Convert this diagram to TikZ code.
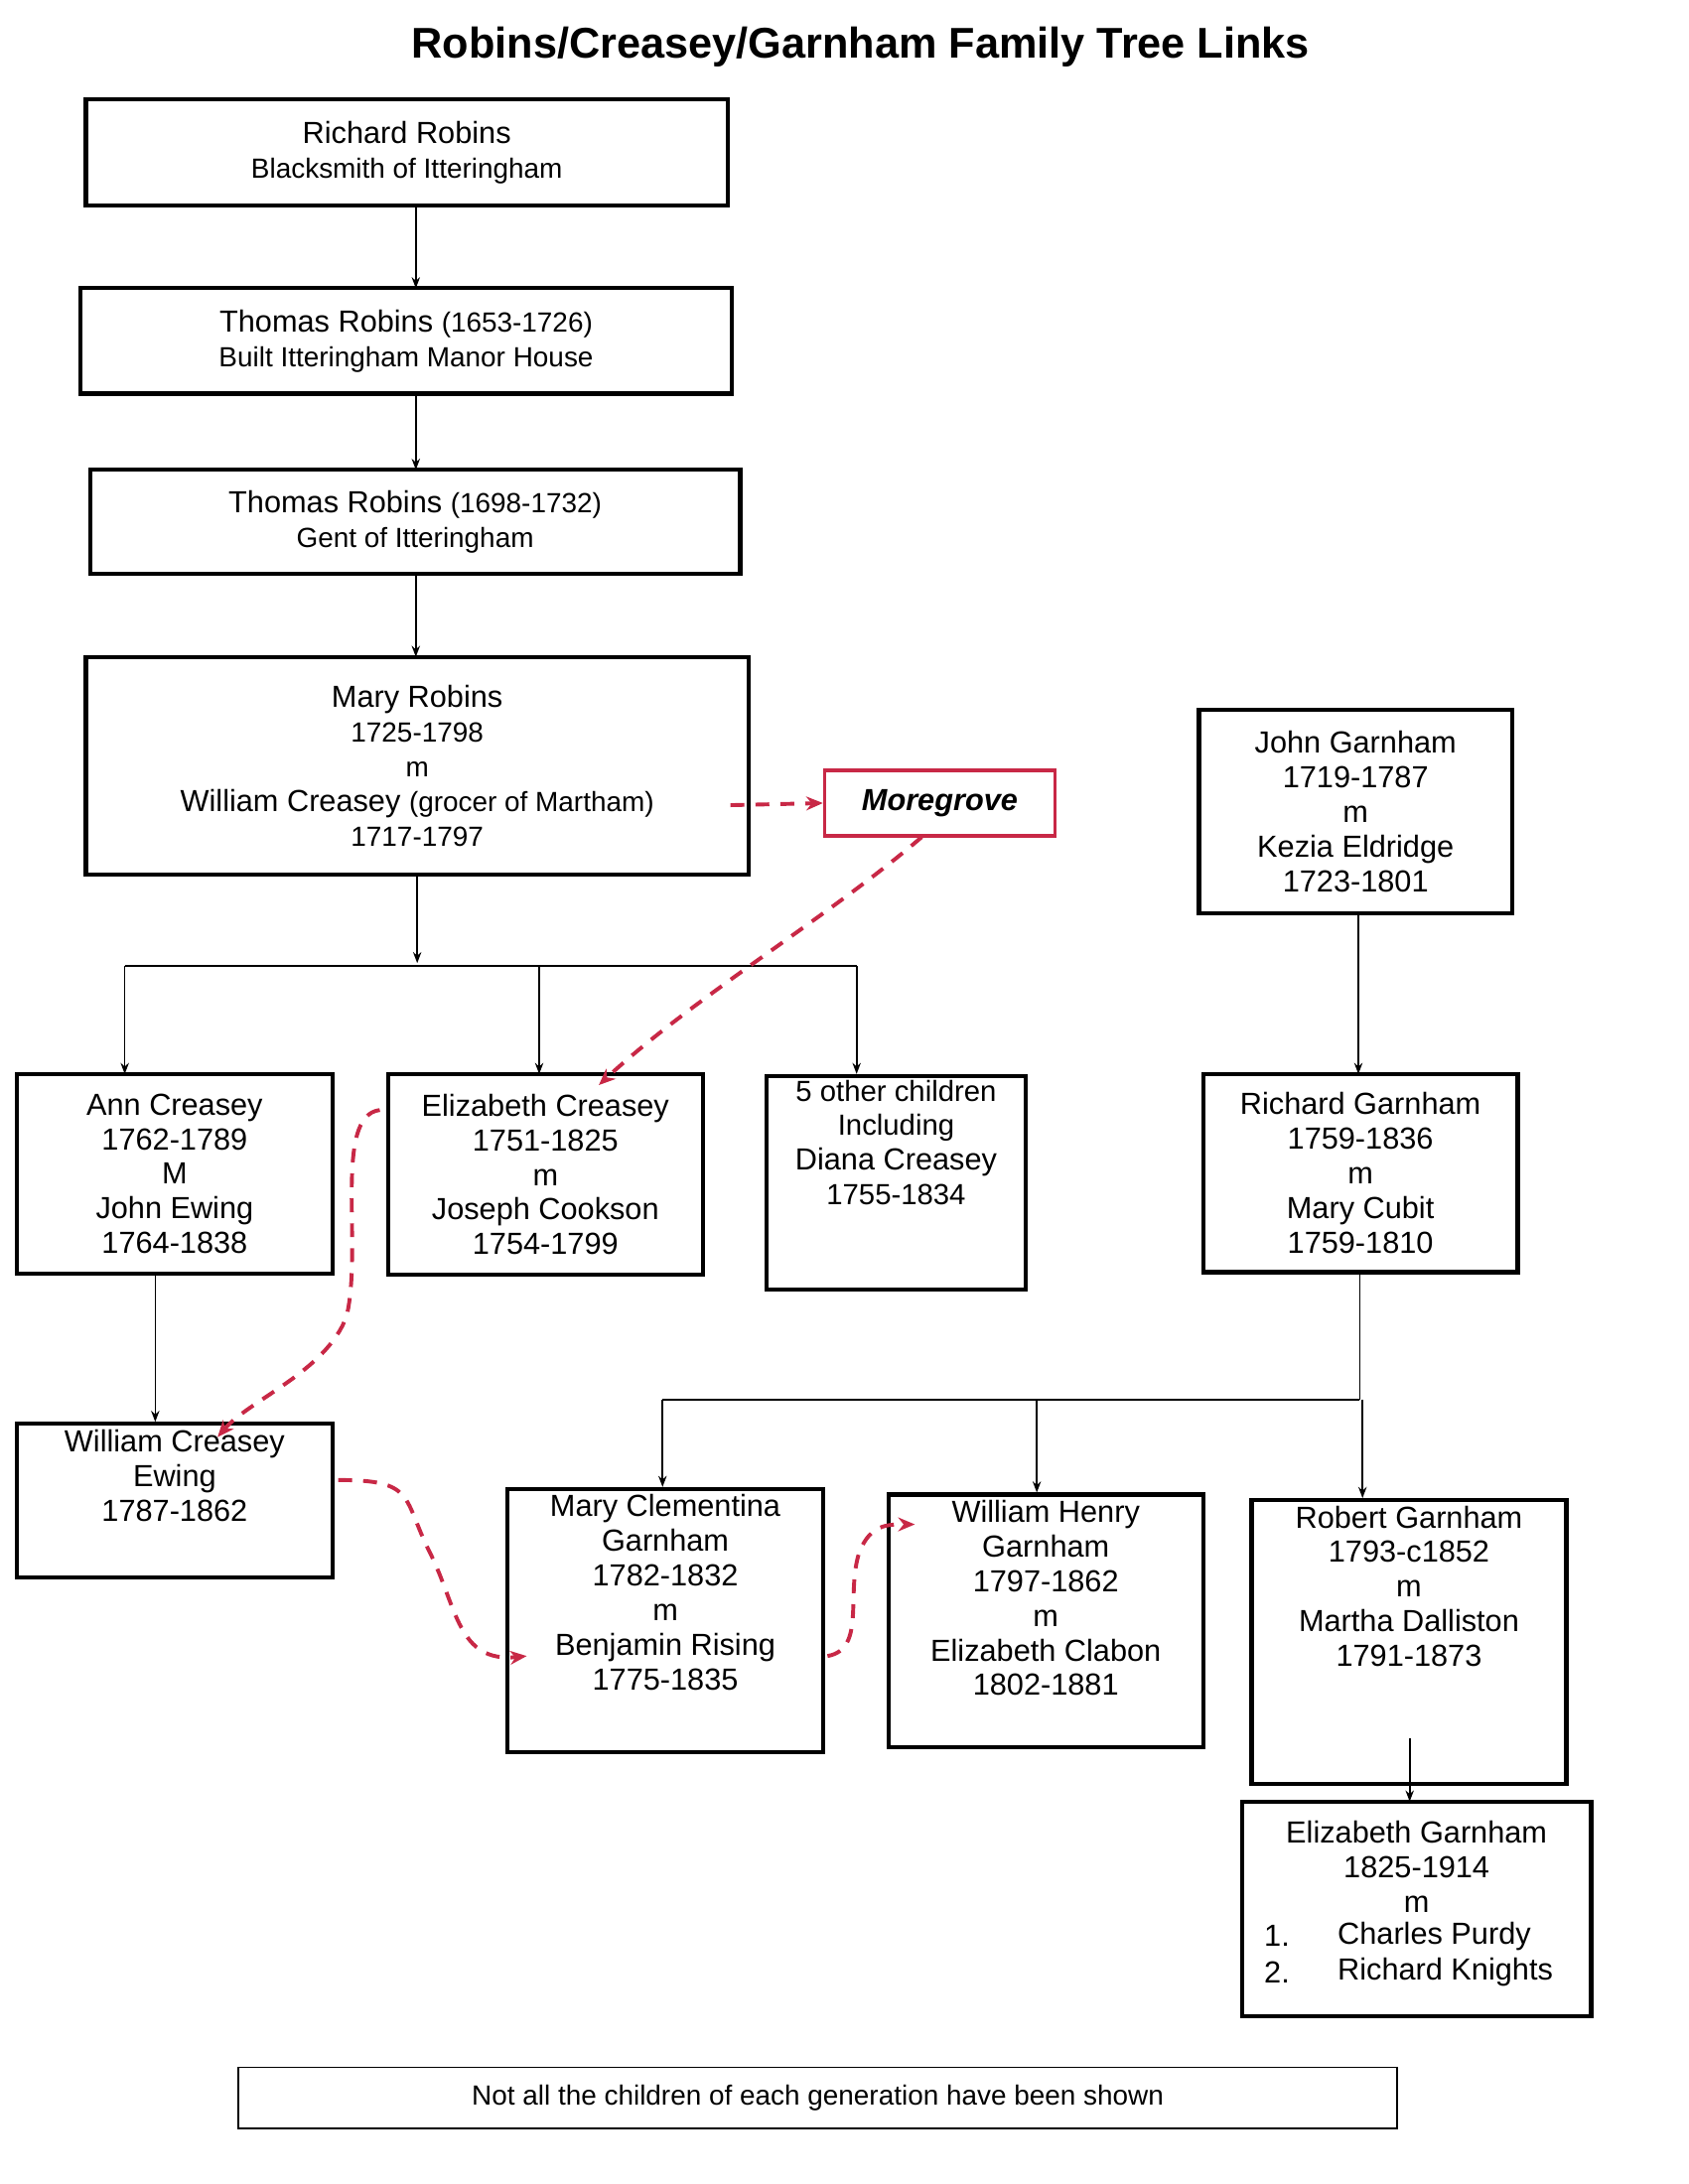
\documentclass[tikz,border=0pt]{standalone}
\usepackage{fontspec}
\setmainfont{Liberation Sans}
\usetikzlibrary{arrows.meta}
\definecolor{rd}{RGB}{200,40,70}
\begin{document}
\begin{tikzpicture}[x=0.5pt,y=-0.5pt,
 bx/.style={draw,line width=1.5pt,align=center,inner sep=0pt,font=\fontsize{11}{12.5}\selectfont},
 ar/.style={-{Stealth[length=4pt,width=3pt]},line width=0.6pt},
 ln/.style={line width=0.6pt},
 rdash/.style={rd,line width=1.4pt,dash pattern=on 5pt off 4pt,-{Stealth[length=6pt,width=5pt]}}]
\useasboundingbox (0,0) rectangle (1218,1576);
\fill[white] (0,0) rectangle (1218,1576);
\node[font=\bfseries\fontsize{15.5}{18}\selectfont] (title) at (621,34) {Robins/Creasey/Garnham Family Tree Links};
\node[bx,minimum width=231.5pt,minimum height=38.5pt] (a) at (293.5,110) {Richard Robins\\{\fontsize{10}{12}\selectfont Blacksmith of Itteringham}};
\node[bx,minimum width=235pt,minimum height=38pt] (b) at (293,246) {Thomas Robins {\fontsize{10}{12}\selectfont(1653-1726)}\\{\fontsize{10}{12}\selectfont Built Itteringham Manor House}};
\node[bx,minimum width=234.5pt,minimum height=37.5pt] (c) at (299.5,376.5) {Thomas Robins {\fontsize{10}{12}\selectfont(1698-1732)}\\{\fontsize{10}{12}\selectfont Gent of Itteringham}};
\node[bx,minimum width=239pt,minimum height=78.5pt] (d) at (301,552.5) {Mary Robins\\{\fontsize{10}{12.5}\selectfont 1725-1798}\\{\fontsize{10}{12.5}\selectfont m}\\William Creasey {\fontsize{10}{12.5}\selectfont(grocer of Martham)}\\{\fontsize{10}{12.5}\selectfont 1717-1797}};
\node[draw=rd,line width=1.3pt,minimum width=83pt,minimum height=23.5pt,inner sep=0pt,font=\bfseries\itshape\fontsize{11}{13}\selectfont] (mg) at (678,579.5) {Moregrove};
\node[bx,minimum width=113pt,minimum height=73.5pt] (jg) at (978,585.5) {John Garnham\\1719-1787\\m\\Kezia Eldridge\\1723-1801};
\node[bx,minimum width=114pt,minimum height=72pt] (ac) at (126,847) {Ann Creasey\\1762-1789\\M\\John Ewing\\1764-1838};
\node[bx,minimum width=113.5pt,minimum height=72.5pt] (ec) at (393.5,847.5) {Elizabeth Creasey\\1751-1825\\m\\Joseph Cookson\\1754-1799};
\node[bx,minimum width=93.5pt,minimum height=71pt,anchor=north] (oc) at (646.5,775) {\rule{0pt}{9pt}{\fontsize{10.5}{12.5}\selectfont 5 other children}\\{\fontsize{10.5}{12.5}\selectfont Including}\\Diana Creasey\\{\fontsize{10.5}{12.5}\selectfont 1755-1834}\\[18pt]};
\node[bx,minimum width=113.5pt,minimum height=71.5pt] (rg) at (981.5,846.5) {Richard Garnham\\1759-1836\\m\\Mary Cubit\\1759-1810};
\node[bx,minimum width=114pt,minimum height=53pt,anchor=north] (we) at (126,1026) {\rule{0pt}{10pt}William Creasey\\Ewing\\1787-1862\\[8pt]};
\node[bx,minimum width=114pt,minimum height=88.5pt,anchor=north] (mc) at (480,1073) {\rule{0pt}{10pt}Mary Clementina\\Garnham\\1782-1832\\m\\Benjamin Rising\\1775-1835\\[10pt]};
\node[bx,minimum width=113.5pt,minimum height=88.5pt,anchor=north] (wh) at (754.5,1077) {\rule{0pt}{10pt}William Henry\\Garnham\\1797-1862\\m\\Elizabeth Clabon\\1802-1881\\[6pt]};
\node[bx,minimum width=113.5pt,minimum height=86.5pt,anchor=north] (rob) at (1016.5,1081) {\rule{0pt}{10pt}Robert Garnham\\1793-c1852\\m\\Martha Dalliston\\1791-1873\\[30pt]};
\node[bx,minimum width=126pt,minimum height=77.5pt] (eg) at (1022,1377.5) {};
\node[font=\fontsize{11}{12.5}\selectfont,align=center] at (1022,1347) {Elizabeth Garnham\\1825-1914\\m};
\node[font=\fontsize{11}{12.5}\selectfont,anchor=west] at (905,1397) {1.};
\node[font=\fontsize{11}{12.5}\selectfont,anchor=west] at (905,1423) {2.};
\node[font=\fontsize{11}{12.5}\selectfont,anchor=west] at (958,1397) {Charles Purdy};
\node[font=\fontsize{11}{12.5}\selectfont,anchor=west] at (958,1423) {Richard Knights};
\node[draw,line width=0.5pt,minimum width=418pt,minimum height=22pt,inner sep=0pt,font=\fontsize{10}{12}\selectfont] (note) at (590,1514) {Not all the children of each generation have been shown};
% black connectors
\draw[ar] (a.south -| 300,0) -- (300,208);
\draw[ar] (300,284) -- (300,339);
\draw[ar] (300,414) -- (300,474);
\draw[ar] (301,631) -- (301,695);
\draw[ln] (90,697) -- (618,697);
\draw[ar] (90,697) -- (90,775);
\draw[ar] (389,697) -- (389,775);
\draw[ar] (618,697) -- (618,775);
\draw[ar] (980,659) -- (980,775);
\draw[ar] (112,919) -- (112,1026);
\draw[ln] (981,918) -- (981,1010);
\draw[ln] (478,1010) -- (981,1010);
\draw[ar] (478,1010) -- (478,1073);
\draw[ar] (748,1010) -- (748,1077);
\draw[ar] (983,1010) -- (983,1081);
\draw[ar] (1017,1254) -- (1017,1300);
% red dashed
\draw[rdash] (527,581) -- (mg.west);
\draw[rdash] (665,604) .. controls (600,660) and (500,720) .. (432,783);
\draw[rdash] (274,801) .. controls (240,805) and (262,900) .. (250,950) .. controls (235,990) and (180,1010) .. (157,1037);
\draw[rdash] (244,1068) .. controls (300,1068) and (290,1080) .. (310,1120) .. controls (330,1160) and (330,1200) .. (380,1195);
\draw[rdash] (597,1195) .. controls (625,1190) and (610,1150) .. (620,1120) .. controls (628,1100) and (640,1100) .. (660,1100);
\end{tikzpicture}
\end{document}
